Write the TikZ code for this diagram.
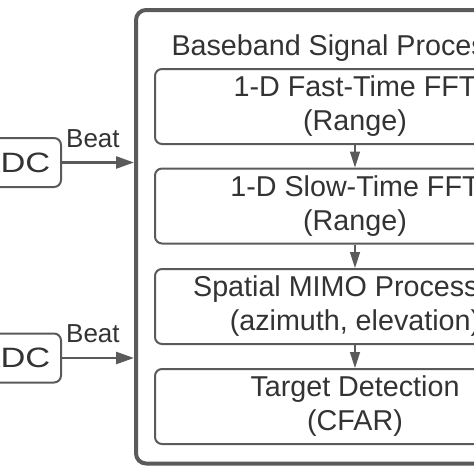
\documentclass[tikz,border=0pt]{standalone}
\usepackage{fontspec}
\setmainfont{Liberation Sans}
\usetikzlibrary{arrows.meta,calc}
\definecolor{lncol}{HTML}{5A5A5A}
\definecolor{txcol}{HTML}{333333}
\tikzset{
  outerbox/.style={draw=lncol,line width=4pt,rounded corners=10pt,minimum width=438pt,minimum height=453.5pt,inner sep=0pt},
  procbox/.style={draw=lncol,line width=2pt,rounded corners=7pt,minimum width=400pt,minimum height=75pt,align=center,text=txcol,font=\fontsize{28.7}{34}\selectfont,inner sep=0pt},
  adcbox/.style={draw=lncol,line width=2pt,rounded corners=7pt,minimum width=94pt,minimum height=49pt,text=txcol,font=\fontsize{28}{32}\selectfont,inner sep=0pt},
  lbl/.style={text=txcol,font=\fontsize{26}{31}\selectfont,inner sep=0pt,anchor=base west},
  titletext/.style={text=txcol,font=\fontsize{28.7}{34}\selectfont,inner sep=0pt,anchor=base},
  beatarr/.style={draw=lncol,line width=2.5pt,-{Triangle[length=18pt,width=12pt]}},
  inarr/.style={draw=lncol,line width=1.5pt,-{Triangle[length=16pt,width=10pt]}}
}
\begin{document}
\begin{tikzpicture}[x=1pt,y=-1pt]
\useasboundingbox (0,0) rectangle (474,474);
\clip (0,0) rectangle (474,474);
\node[outerbox] (bsp) at (355,236.75) {};
\node[titletext] (title) at (355,55) {Baseband Signal Processing};
\node[procbox] (fft1) at (355,106.5) {\raisebox{-1.5pt}{\parbox{400pt}{\centering 1-D Fast-Time FFT\\(Range)}}};
\node[procbox] (fft2) at (355,206) {\raisebox{-1.5pt}{\parbox{400pt}{\centering 1-D Slow-Time FFT\\(Range)}}};
\node[procbox] (mimo) at (355,306.5) {\raisebox{-1.5pt}{\parbox{400pt}{\centering Spatial MIMO Processing\\(azimuth, elevation)}}};
\node[procbox] (det) at (355,406.5) {\raisebox{-1.5pt}{\parbox{400pt}{\centering Target Detection\\(CFAR)}}};
\draw[inarr] (fft1.south) -- (fft2.north);
\draw[inarr] (fft2.south) -- (mimo.north);
\draw[inarr] (mimo.south) -- (det.north);
\node[adcbox] (adc1) at (14,162.5) {\raisebox{-1pt}{\scalebox{1.23}[1]{ADC}}};
\node[adcbox] (adc2) at (14,358) {\raisebox{-1pt}{\scalebox{1.23}[1]{ADC}}};
\draw[beatarr] (adc1.east) -- (adc1.east -| bsp.west);
\draw[beatarr] (adc2.east) -- (adc2.east -| bsp.west);
\node[lbl] (beat1) at (66,147) {Beat};
\node[lbl] (beat2) at (66,342) {Beat};
\end{tikzpicture}
\end{document}
